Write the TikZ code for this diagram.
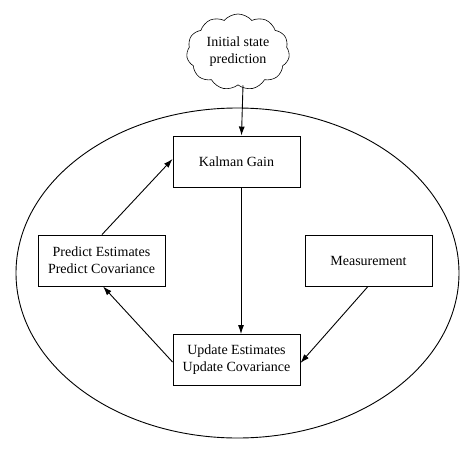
\documentclass[tikz,border=0pt]{standalone}
\usepackage{fontspec}
\setmainfont{Liberation Serif}
\usetikzlibrary{shapes.symbols,arrows.meta}
\begin{document}
\begin{tikzpicture}[x=1pt,y=-1pt,
  box/.style={draw,line width=0.9pt,minimum width=127pt,minimum height=51pt,align=center,inner sep=0pt,font=\fontsize{14}{17}\selectfont},
  arr/.style={draw,line width=0.9pt,-{Latex[length=9pt,width=6pt]}},
  every node/.append style={text=black}]
\useasboundingbox (0,0) rectangle (474,455);
\draw[line width=0.9pt] (237.5,273) ellipse [x radius=221.5, y radius=165];
\node[cloud, draw, line width=0.6pt, cloud puffs=11, cloud puff arc=100, aspect=1.4, minimum width=103pt, minimum height=76pt, inner sep=0pt, align=center, font=\fontsize{14}{17}\selectfont] (cl) at (238,52) {Initial state\\prediction};
\node[box] (kg) at (236.5,161.5) {Kalman Gain};
\node[box] (pe) at (101.5,260.5) {Predict Estimates\\Predict Covariance};
\node[box] (me) at (368.5,260.5) {Measurement};
\node[box] (ue) at (236.5,360) {Update Estimates\\Update Covariance};
\draw[arr] ([xshift=5pt]cl.south) -- ([xshift=5pt]kg.north);
\draw[arr] ([xshift=4.5pt]kg.south) -- ([xshift=4.5pt]ue.north);
\draw[arr] ([xshift=0.5pt]pe.north) -- ([yshift=2.5pt]kg.west);
\draw[arr] ([yshift=-2pt]ue.west) -- ([xshift=1.5pt]pe.south);
\draw[arr] ([xshift=-0.5pt]me.south) -- ([yshift=-3pt]ue.east);
\end{tikzpicture}
\end{document}
